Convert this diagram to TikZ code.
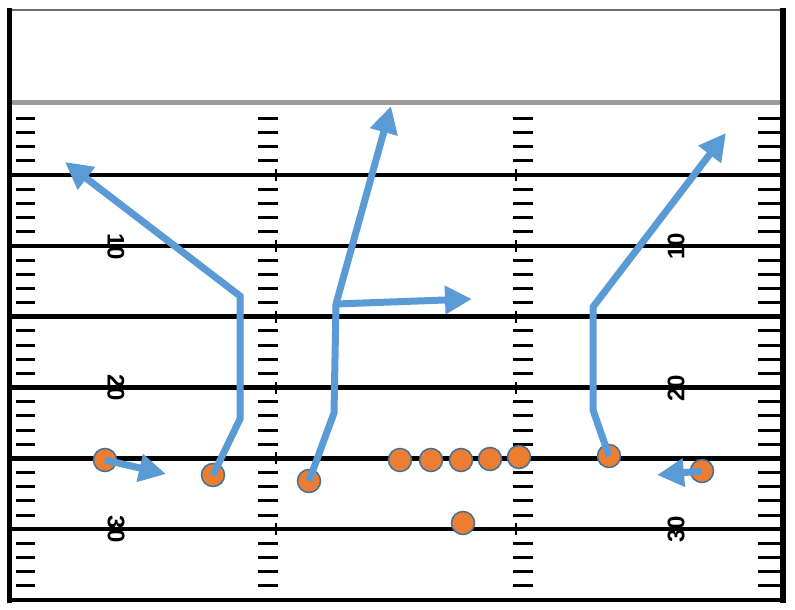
\documentclass[tikz,border=0pt]{standalone}
\usepackage{fontspec}
\setmainfont{Liberation Sans}
\usetikzlibrary{arrows.meta}
\definecolor{routeblue}{HTML}{5B9BD5}
\definecolor{playerorange}{HTML}{ED7D31}
\definecolor{playeredge}{HTML}{41719C}
\definecolor{goalgray}{HTML}{9C9C9C}
\tikzset{
  yardline/.style={line width=4.5pt, black},
  hashmark/.style={line width=3pt, black},
  tickmark/.style={line width=2.5pt, black},
  border/.style={line width=5.5pt, black},
  routeline/.style={line width=7pt, routeblue, line join=miter},
  routearrow/.style={routeline, -{Triangle[length=27pt,width=27pt]}},
  player/.style={circle, fill=playerorange, draw=playeredge, line width=1.5pt, minimum size=23pt, inner sep=0pt},
  yardnum/.style={font=\fontsize{24}{24}\selectfont\bfseries, inner sep=0pt},
}
\begin{document}
\begin{tikzpicture}[x=1pt,y=-1pt]
\useasboundingbox (0,0) rectangle (795,610);
\fill[white] (0,0) rectangle (795,610);
% top thin line and goal line
\draw[line width=1.2pt, goalgray!70!black] (8,10) -- (784,10);
\draw[line width=5pt, goalgray] (10,102) -- (782,102);
% yard lines
\foreach \i in {1,...,6}{
  \pgfmathsetmacro\yy{104.2+70.83*\i}
  \draw[yardline] (9,\yy) -- (783,\yy);
  \draw[tickmark] (276,\yy-6) -- (276,\yy+6);
  \draw[tickmark] (516,\yy-6) -- (516,\yy+6);
}
% hash marks
\foreach \i in {0,...,6}{
  \foreach \j in {1,...,4}{
    \pgfmathsetmacro\yy{104.2+70.83*\i+14.17*\j}
    \draw[hashmark] (16,\yy) -- (35,\yy);
    \draw[hashmark] (258,\yy) -- (278,\yy);
    \draw[hashmark] (513,\yy) -- (533,\yy);
    \draw[hashmark] (758,\yy) -- (780,\yy);
  }
}
% borders
\draw[border] (9.5,8) -- (9.5,603);
\draw[border] (783,8) -- (783,603);
\draw[line width=4.5pt, black] (8,600) -- (785,600);
% yard numbers
\node[yardnum, rotate=-90] (n10l) at (116,247) {10};
\node[yardnum, rotate=-90] (n20l) at (116,388) {20};
\node[yardnum, rotate=-90] (n30l) at (116,529) {30};
\node[yardnum, rotate=90] (n10r) at (676,246) {10};
\node[yardnum, rotate=90] (n20r) at (676,388) {20};
\node[yardnum, rotate=90] (n30r) at (676,529) {30};
% players
\node[player] (wrl) at (105,460) {};
\node[player] (sl) at (213,475) {};
\node[player] (te) at (309,481) {};
\node[player] (ol1) at (400,460) {};
\node[player] (ol2) at (431,460) {};
\node[player] (ol3) at (461,460) {};
\node[player] (ol4) at (490,459) {};
\node[player] (ol5) at (519,457) {};
\node[player] (qb) at (463,523) {};
\node[player] (sr) at (609,456) {};
\node[player] (wrr) at (702,471) {};
% route points
\coordinate (a1) at (240,419);
\coordinate (a2) at (240,296);
\coordinate (a3) at (65,162);
\coordinate (b1) at (334,413);
\coordinate (b2) at (336,304);
\coordinate (b3) at (391,106);
\coordinate (b4) at (472,299);
\coordinate (c1) at (593,410);
\coordinate (c2) at (593,307);
\coordinate (c3) at (726,133);
\coordinate (d1) at (166,474);
\coordinate (e1) at (657,475);
% routes
\draw[routearrow] (sl.center) -- (a1) -- (a2) -- (a3);
\draw[routearrow] (te.center) -- (b1) -- (b2) -- (b3);
\draw[routearrow] (b2) -- (b4);
\draw[routearrow] (sr.center) -- (c1) -- (c2) -- (c3);
\draw[routearrow] (wrl.center) -- (d1);
\draw[routearrow] (wrr.center) -- (e1);
\end{tikzpicture}
\end{document}
